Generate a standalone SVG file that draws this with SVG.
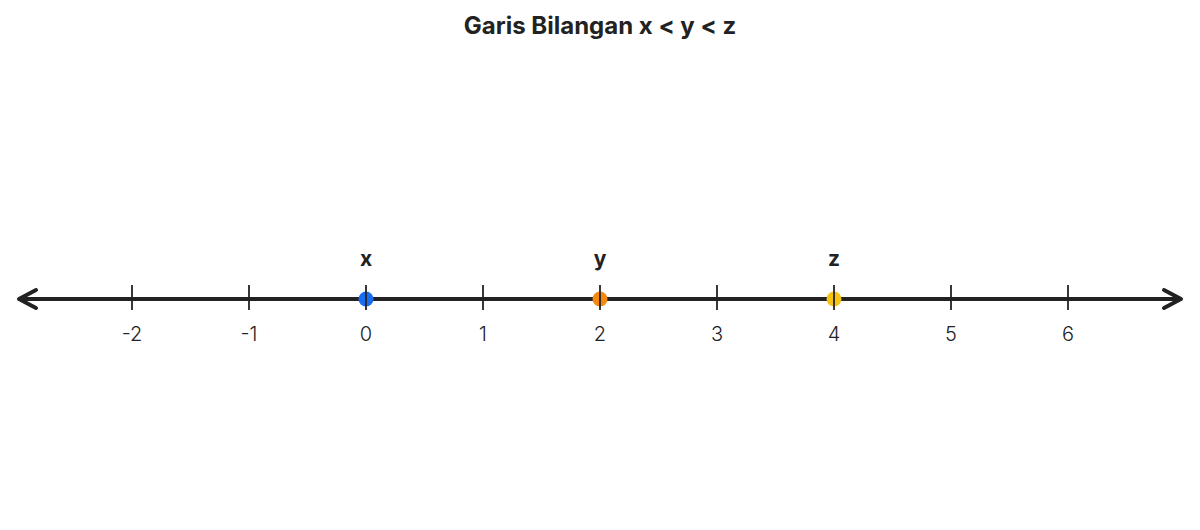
<svg xmlns="http://www.w3.org/2000/svg" width="1200" height="530" viewBox="0 0 1200 530">
<style>
.axis{stroke:#222;stroke-width:4;fill:none;stroke-linecap:round;stroke-linejoin:round}
.tick{stroke:#222;stroke-width:1.8}
.num{font-family:Inter,"Liberation Sans",sans-serif;font-weight:300;font-size:20px;fill:#222;text-anchor:middle}
.lbl{font-family:Inter,"Liberation Sans",sans-serif;font-weight:700;font-size:21px;fill:#222;text-anchor:middle}
.title{font-family:Inter,"Liberation Sans",sans-serif;font-weight:700;font-size:24px;fill:#222;text-anchor:middle}
</style>
<rect width="1200" height="530" fill="#fff"/>
<text class="title" x="600" y="34">Garis Bilangan x &lt; y &lt; z</text>
<g id="connectors">
<line class="axis" x1="20" y1="299" x2="1180" y2="299"/>
<polyline class="axis" points="36,290 19,299 36,308"/>
<polyline class="axis" points="1164,290 1181,299 1164,308"/>
</g>
<g id="points">
<circle cx="366" cy="299" r="7.5" fill="#1a6cf0"/>
<circle cx="600" cy="299" r="7.5" fill="#f5890f"/>
<circle cx="834" cy="299" r="7.5" fill="#f7c414"/>
</g>
<g id="ticks">
<line class="tick" x1="132" y1="285" x2="132" y2="310"/>
<line class="tick" x1="249" y1="285" x2="249" y2="310"/>
<line class="tick" x1="366" y1="285" x2="366" y2="310"/>
<line class="tick" x1="483" y1="285" x2="483" y2="310"/>
<line class="tick" x1="600" y1="285" x2="600" y2="310"/>
<line class="tick" x1="717" y1="285" x2="717" y2="310"/>
<line class="tick" x1="834" y1="285" x2="834" y2="310"/>
<line class="tick" x1="951" y1="285" x2="951" y2="310"/>
<line class="tick" x1="1068" y1="285" x2="1068" y2="310"/>
</g>
<g id="numbers">
<text class="num" x="132" y="341">-2</text>
<text class="num" x="249" y="341">-1</text>
<text class="num" x="366" y="341">0</text>
<text class="num" x="483" y="341">1</text>
<text class="num" x="600" y="341">2</text>
<text class="num" x="717" y="341">3</text>
<text class="num" x="834" y="341">4</text>
<text class="num" x="951" y="341">5</text>
<text class="num" x="1068" y="341">6</text>
</g>
<g id="node-x"><text class="lbl" x="366" y="266">x</text></g>
<g id="node-y"><text class="lbl" x="600" y="266">y</text></g>
<g id="node-z"><text class="lbl" x="834" y="266">z</text></g>
</svg>
